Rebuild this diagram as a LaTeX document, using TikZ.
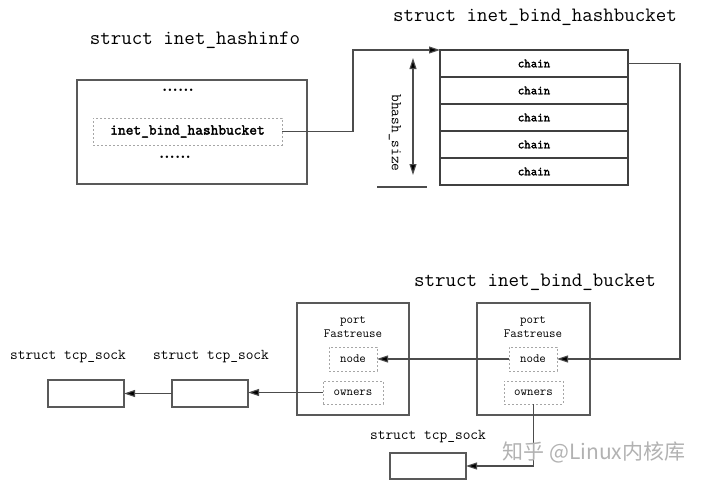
\documentclass[tikz,border=0pt]{standalone}
\usepackage{fontspec}
\newfontfamily\cjk{Noto Sans CJK SC}
\newfontfamily\boldtt{Latin Modern Mono}[FakeBold=2.2]
\usetikzlibrary{arrows.meta, positioning}

\begin{document}
\begin{tikzpicture}[x=1pt, y=-1pt,
        title/.style={font=\ttfamily\fontsize{20.4}{24}\selectfont},
        sockname/.style={font=\ttfamily\fontsize{15}{18}\selectfont},
        field/.style={font=\ttfamily\fontsize{12.6}{16}\selectfont, align=center},
        dots/.style={font=\rmfamily\bfseries\fontsize{17}{18}\selectfont},
        outerbox/.style={draw=black!65, line width=1.3pt, inner sep=0pt, outer sep=0pt},
        dbox/.style={draw=black!35, dash pattern=on 2pt off 2pt, line width=0.7pt,
                     inner sep=0pt, outer sep=0pt},
        chainbox/.style={draw=black!75, line width=1.1pt, minimum width=188, minimum height=27,
                         inner sep=0pt, outer sep=0pt,
                         font=\boldtt\fontsize{12.6}{14}\selectfont},
        conn/.style={draw=black!70, line width=1.1pt},
        arr/.style={-{Triangle[length=11pt, width=7pt, fill=black]}},
      ]
        \useasboundingbox (0,0) rectangle (701,480);

        % inet_hashinfo
        \node[title] (t_info) at (195,40) {struct inet\_hashinfo};
        \node[outerbox, minimum width=230, minimum height=104] (info) at (192,132) {};
        \node[dots] (dots1) at (178,90) {......};
        \node[dbox, minimum width=189, minimum height=27,
              font=\boldtt\fontsize{15}{18}\selectfont] (hb) at (187.5,131.5)
          {inet\_bind\_hashbucket};
        \node[dots] (dots2) at (175,157) {......};

        % inet_bind_hashbucket
        \node[title] (t_hash) at (535,17) {struct inet\_bind\_hashbucket};
        \foreach \i in {1,...,5}
          \node[chainbox] (c\i) at (534,36.5+27*\i) {chain};

        \coordinate (bs_top) at (413,58);
        \coordinate (bs_bot) at (413,175);
        \draw[conn, {Triangle[length=11pt, width=7pt, fill=black]}-{Triangle[length=11pt, width=7pt, fill=black]}]
          (bs_top) -- (bs_bot);
        \node[sockname, rotate=-90] (bsize) at (395,133) {bhash\_size};
        \draw[conn] (377,187) -- (427,187);

        \draw[conn, arr] (hb.east) -- ++(71,0) |- (c1.north west);

        % inet_bind_bucket
        \node[title] (t_bucket) at (535,282) {struct inet\_bind\_bucket};
        \node[outerbox, minimum width=113, minimum height=112] (rb) at (533.5,359) {};
        \node[outerbox, minimum width=112, minimum height=112] (lb) at (353,359) {};

        \node[field] (rport) at (533,327) {port\\[-2pt]Fastreuse};
        \node[dbox, field, minimum width=48, minimum height=24] (rnode) at (533,359) {node};
        \node[dbox, field, minimum width=59, minimum height=23] (rowners) at (533.5,392.5) {owners};

        \node[field] (lport) at (353,327) {port\\[-2pt]Fastreuse};
        \node[dbox, field, minimum width=48, minimum height=24] (lnode) at (353,359) {node};
        \node[dbox, field, minimum width=60, minimum height=23] (lowners) at (353,392.5) {owners};

        \draw[conn, arr] (c1.east) -- ++(52,0) |- (rnode.east);
        \draw[conn, arr] (rnode.west) -- (lnode.east);

        % tcp_sock
        \node[sockname] (l_ts1) at (68,357) {struct tcp\_sock};
        \node[sockname] (l_ts2) at (211,357) {struct tcp\_sock};
        \node[sockname] (l_ts3) at (428,437) {struct tcp\_sock};
        \node[outerbox, minimum width=76, minimum height=27] (ts1) at (86,393.5) {};
        \node[outerbox, minimum width=76, minimum height=27] (ts2) at (210,393.5) {};
        \node[outerbox, minimum width=76, minimum height=26] (ts3) at (428,466) {};

        \draw[conn, arr] (lowners.west) -- (lowners.west -| ts2.east);
        \draw[conn, arr] (ts2.west) -- (ts1.east);
        \draw[conn, arr] (rowners.south) |- (ts3.east);

        \node[text=black!30, font=\cjk\fontsize{21}{24}\selectfont] (wm) at (594,452)
          {知乎 @Linux内核库};
      \end{tikzpicture}
\end{document}
